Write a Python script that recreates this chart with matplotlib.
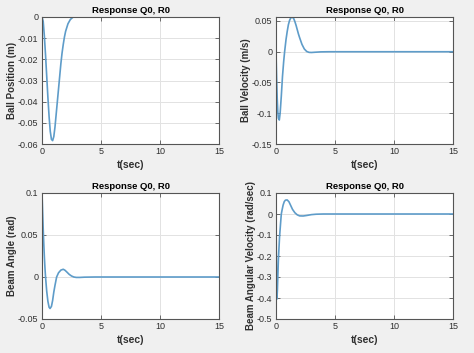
import matplotlib
matplotlib.use("Agg")
import matplotlib.pyplot as plt

# ---------------- data ----------------
t_pos = [0, 0.1, 0.2, 0.3, 0.4, 0.5, 0.6, 0.7, 0.8, 0.9, 1.0, 1.1, 1.2, 1.3, 1.4,
         1.5, 1.6, 1.7, 1.8, 1.9, 2.0, 2.2, 2.4, 2.6, 2.8, 3.0, 3.5, 4.0, 5.0, 15]
ball_pos = [0, -0.002, -0.009, -0.018, -0.028, -0.038, -0.047, -0.054, -0.0578,
            -0.0584, -0.0565, -0.052, -0.046, -0.040, -0.034, -0.028, -0.022,
            -0.017, -0.013, -0.0095, -0.0068, -0.0032, -0.0012, -0.0002, 0.0002,
            0.0003, 0.0003, 0.0001, 0, 0]

t_vel = [0, 0.05, 0.1, 0.15, 0.2, 0.28, 0.35, 0.45, 0.55, 0.65, 0.73, 0.85, 0.95,
         1.05, 1.15, 1.25, 1.38, 1.5, 1.6, 1.7, 1.8, 1.9, 2.0, 2.2, 2.4, 2.6, 2.8,
         3.0, 3.3, 3.8, 4.5, 15]
ball_vel = [0, -0.04, -0.075, -0.097, -0.108, -0.111, -0.100, -0.072, -0.040,
            -0.016, 0.0, 0.020, 0.033, 0.044, 0.051, 0.055, 0.0563, 0.054, 0.049,
            0.043, 0.036, 0.029, 0.023, 0.012, 0.0045, 0.0005, -0.001, -0.0012,
            -0.0008, -0.0002, 0, 0]

t_ang = [0, 0.05, 0.1, 0.15, 0.2, 0.25, 0.3, 0.4, 0.5, 0.6, 0.68, 0.8, 0.9, 1.0,
         1.1, 1.24, 1.4, 1.6, 1.8, 1.95, 2.1, 2.3, 2.5, 2.7, 2.9, 3.2, 3.6, 4.5, 15]
beam_ang = [0.1, 0.079, 0.058, 0.040, 0.024, 0.011, 0.0, -0.017, -0.029, -0.036,
            -0.0375, -0.035, -0.028, -0.018, -0.010, 0.0, 0.005, 0.0082, 0.0092,
            0.008, 0.006, 0.0032, 0.0012, 0.0, -0.0005, -0.0005, -0.0002, 0, 0]

t_angvel = [0, 0.04, 0.08, 0.12, 0.2, 0.3, 0.4, 0.45, 0.5, 0.6, 0.7, 0.8, 0.95,
            1.1, 1.25, 1.4, 1.6, 1.8, 2.0, 2.3, 2.6, 3.0, 3.4, 4.0, 15]
beam_angvel = [0, -0.30, -0.405, -0.36, -0.22, -0.11, -0.035, 0.0, 0.015, 0.042,
               0.059, 0.066, 0.067, 0.058, 0.040, 0.022, 0.006, -0.004, -0.009,
               -0.0095, -0.007, -0.003, -0.001, 0, 0]

title_text = "Response Q0, R0"
xlabel_text = "t(sec)"
ylabels = ["Ball Position (m)", "Ball Velocity (m/s)",
           "Beam Angle (rad)", "Beam Angular Velocity (rad/sec)"]
xticks = [0, 5, 10, 15]
yticks_list = [[0, -0.01, -0.02, -0.03, -0.04, -0.05, -0.06],
               [0.05, 0, -0.05, -0.1, -0.15],
               [0.1, 0.05, 0, -0.05],
               [0.1, 0, -0.1, -0.2, -0.3, -0.4, -0.5]]
ylims = [(-0.06, 0.0), (-0.15, 0.0565), (-0.05, 0.1), (-0.5, 0.1)]

series = [(t_pos, ball_pos), (t_vel, ball_vel), (t_ang, beam_ang), (t_angvel, beam_angvel)]

# ---------------- figure ----------------
plt.rcParams['font.family'] = ['Liberation Sans', 'DejaVu Sans']
W, H = 474, 353
fig = plt.figure(figsize=(W / 100, H / 100), dpi=100, facecolor='#f0f0f0')

# axes boxes in pixels: (left, top, right, bottom)
boxes = [(42, 17, 219, 144), (276, 17, 453, 144),
         (42, 193, 219, 319), (276, 193, 453, 319)]

line_color = '#5e9cc9'
text_color = '#303030'

for i, (l, tp, r, b) in enumerate(boxes):
    ax = fig.add_axes([l / W, 1 - b / H, (r - l) / W, (b - tp) / H])
    ax.set_facecolor('white')
    x, y = series[i]
    ax.plot(x, y, color=line_color, lw=1.2)
    ax.set_xlim(0, 15)
    ax.set_ylim(*ylims[i])
    ax.set_xticks(xticks)
    ax.set_xticklabels([str(v) for v in xticks])
    ax.set_yticks(yticks_list[i])
    ax.set_yticklabels([f"{v:g}" for v in yticks_list[i]])
    ax.grid(True, color='#e2e2e2', lw=0.7)
    ax.set_axisbelow(True)
    for s in ax.spines.values():
        s.set_color('#555555')
        s.set_linewidth(0.8)
    ax.tick_params(axis='both', direction='in', length=3, width=0.6,
                   colors='#555555', labelsize=6.5, labelcolor=text_color, pad=2.5,
                   top=True, right=True)
    ax.set_title(title_text, fontsize=6.8, fontweight='bold', color='black', pad=3)
    ax.set_xlabel(xlabel_text, fontsize=7.5, fontweight='bold', color=text_color, labelpad=2.5)
    ax.set_ylabel(ylabels[i], fontsize=7, fontweight='bold', color=text_color, labelpad=0.5)

fig.savefig('out.png', dpi=100, facecolor=fig.get_facecolor())
